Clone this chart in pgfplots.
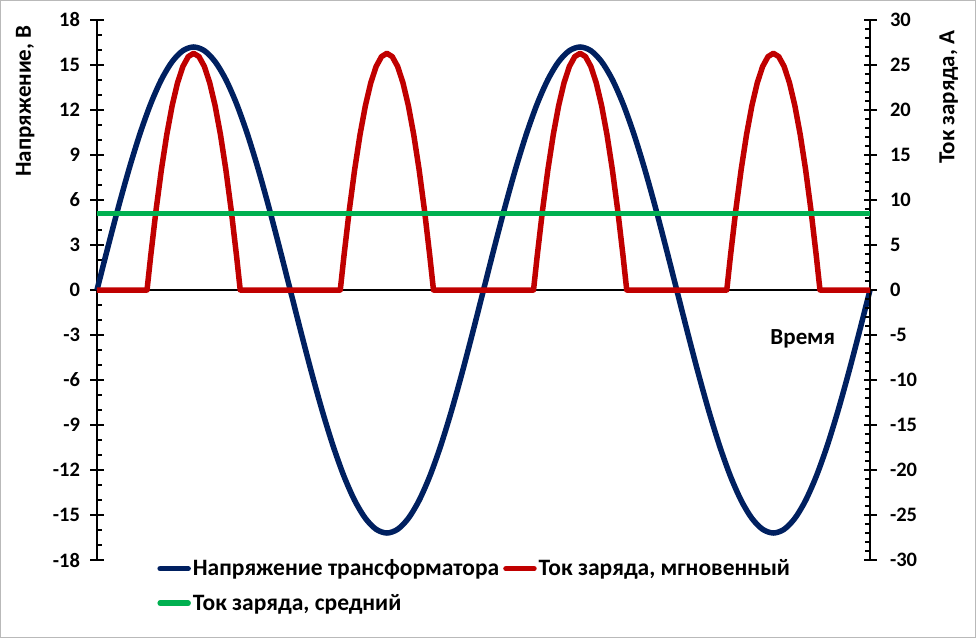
\documentclass[border=0pt]{standalone}
\usepackage{pgfplots}
\pgfplotsset{compat=1.18}
\usepackage{fontspec}
\setmainfont{Carlito}
\definecolor{cblue}{RGB}{0,32,96}
\definecolor{cred}{RGB}{192,0,0}
\definecolor{cgreen}{RGB}{0,176,80}
\begin{document}
\begin{tikzpicture}
\pgfplotsset{
  common/.style={
    scale only axis, width=773pt, height=540pt,
    xmin=0, xmax=720, clip=false,
    tick align=center, major tick length=13pt, minor tick length=5pt,
    every tick/.style={black, line width=1.5pt},
    axis line style={black, line width=2pt},
    tick label style={font=\fontsize{20.5}{24}\selectfont\bfseries},
    label style={font=\fontsize{23}{27}\selectfont\bfseries},
    hide obscured x ticks=false, hide obscured y ticks=false,
  },
}
\begin{axis}[common,
  axis x line*=middle, axis y line*=left,
  ymin=-18, ymax=18,
  ytick={-18,-15,-12,-9,-6,-3,0,3,6,9,12,15,18},
  yticklabels={-18,-15,-12,-9,-6,-3,0,3,6,9,12,15,18},
  yticklabel style={xshift=-7pt},
  minor y tick num=2,
  minor y tick style={xshift=2.5pt},
  xtick=\empty,
  minor xtick={0,15,...,720},
  minor x tick style={yshift=-2.5pt},
  ylabel={Напряжение, В},
  ylabel style={at={(axis description cs:-0.093,0.85)}, anchor=center},
]
\addplot[cblue, line width=5.5pt, smooth] coordinates {
(0,0) (10,2.813) (20,5.541) (30,8.1) (40,10.413) (50,12.410) (60,14.030) (70,15.223) (80,15.954) (90,16.2)
(100,15.954) (110,15.223) (120,14.030) (130,12.410) (140,10.413) (150,8.1) (160,5.541) (170,2.813) (180,0)
(190,-2.813) (200,-5.541) (210,-8.1) (220,-10.413) (230,-12.410) (240,-14.030) (250,-15.223) (260,-15.954) (270,-16.2)
(280,-15.954) (290,-15.223) (300,-14.030) (310,-12.410) (320,-10.413) (330,-8.1) (340,-5.541) (350,-2.813) (360,0)
(370,2.813) (380,5.541) (390,8.1) (400,10.413) (410,12.410) (420,14.030) (430,15.223) (440,15.954) (450,16.2)
(460,15.954) (470,15.223) (480,14.030) (490,12.410) (500,10.413) (510,8.1) (520,5.541) (530,2.813) (540,0)
(550,-2.813) (560,-5.541) (570,-8.1) (580,-10.413) (590,-12.410) (600,-14.030) (610,-15.223) (620,-15.954) (630,-16.2)
(640,-15.954) (650,-15.223) (660,-14.030) (670,-12.410) (680,-10.413) (690,-8.1) (700,-5.541) (710,-2.813) (720,0)
};
\node[font=\fontsize{23}{27}\selectfont\bfseries] at (rel axis cs:0.913,0.41) {Время};
\end{axis}
\begin{axis}[common,
  axis x line=none, axis y line*=right,
  ymin=-30, ymax=30,
  ytick={-30,-25,-20,-15,-10,-5,0,5,10,15,20,25,30},
  yticklabels={-30,-25,-20,-15,-10,-5,0,5,10,15,20,25,30},
  yticklabel style={xshift=10pt},
  minor y tick num=4,
  minor y tick style={xshift=-2.5pt},
  ylabel={Ток заряда, А},
  ylabel style={at={(axis description cs:1.102,0.857)}, anchor=center, rotate=0},
  legend columns=2,
  legend cell align=left,
  legend style={at={(rel axis cs:0.074,0.008)}, anchor=north west, draw=none, fill=none,
    font=\fontsize{23.5}{27}\selectfont\bfseries,
    /tikz/every even column/.append style={column sep=2pt},
    /tikz/every odd column/.append style={column sep=0pt},
    row sep=13pt},
  legend image code/.code={\draw[#1, line cap=round] (0pt,0pt) -- (28pt,0pt);},
]
\addlegendimage{cblue, line width=5.5pt}
\addlegendentry{Напряжение трансформатора}
\addplot[cred, line width=5.5pt, line join=round] coordinates {
(0,0) (46.6,0) (50,3.76) (55,8.88) (60,13.39) (65,17.27) (70,20.49) (75,23.02) (80,24.84) (85,25.93) (90,26.30)
(95,25.93) (100,24.84) (105,23.02) (110,20.49) (115,17.27) (120,13.39) (125,8.88) (130,3.76) (133.4,0)
(226.6,0) (230,3.76) (235,8.88) (240,13.39) (245,17.27) (250,20.49) (255,23.02) (260,24.84) (265,25.93) (270,26.30)
(275,25.93) (280,24.84) (285,23.02) (290,20.49) (295,17.27) (300,13.39) (305,8.88) (310,3.76) (313.4,0)
(406.6,0) (410,3.76) (415,8.88) (420,13.39) (425,17.27) (430,20.49) (435,23.02) (440,24.84) (445,25.93) (450,26.30)
(455,25.93) (460,24.84) (465,23.02) (470,20.49) (475,17.27) (480,13.39) (485,8.88) (490,3.76) (493.4,0)
(586.6,0) (590,3.76) (595,8.88) (600,13.39) (605,17.27) (610,20.49) (615,23.02) (620,24.84) (625,25.93) (630,26.30)
(635,25.93) (640,24.84) (645,23.02) (650,20.49) (655,17.27) (660,13.39) (665,8.88) (670,3.76) (673.4,0)
(720,0)
};
\addlegendentry{Ток заряда, мгновенный}
\addplot[cgreen, line width=5.5pt] coordinates {(0,8.5) (720,8.5)};
\addlegendentry{Ток заряда, средний}
\end{axis}
\draw[gray!55, line width=1pt, use as bounding box] (-96.5pt,-77.5pt) rectangle (878.5pt,559.5pt);
\end{tikzpicture}
\end{document}
